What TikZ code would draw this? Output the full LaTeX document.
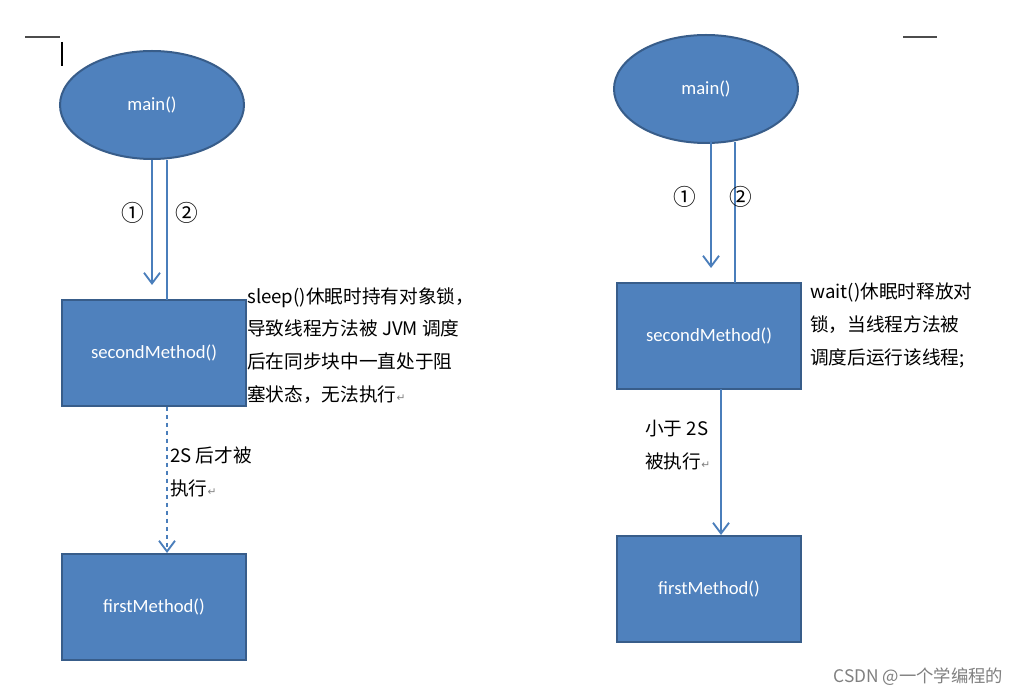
\documentclass[tikz,border=0pt]{standalone}
\usepackage{fontspec}
\setmainfont{Carlito}
\newfontfamily\cjk{Noto Sans CJK SC}
\newfontfamily\dvs{DejaVu Sans}
\usetikzlibrary{shapes.geometric,arrows.meta}
\definecolor{bfill}{HTML}{4F81BD}
\definecolor{bdraw}{HTML}{385D8A}
\definecolor{ln}{HTML}{4A7EBB}
\newcommand{\retmark}{{\dvs\color{gray}\fontsize{8}{8}\selectfont ↵}}
\tikzset{
 blob/.style={ellipse,fill=bfill,draw=bdraw,line width=1.5pt,text=white,font=\fontsize{14}{14}\selectfont,minimum width=184*0.75pt,minimum height=108*0.75pt,inner sep=0},
 box/.style={rectangle,fill=bfill,draw=bdraw,line width=1.5pt,text=white,font=\fontsize{14}{14}\selectfont,minimum width=184*0.75pt,minimum height=106*0.75pt,inner sep=0},
 conn/.style={ln,line width=1.6pt},
 arr/.style={conn,-{Straight Barb[length=8pt,width=12pt,line width=1.4pt]}},
 note/.style={anchor=north west,align=left,inner sep=0,font=\cjk\fontsize{14}{24.5}\selectfont},
 num/.style={font=\cjk\fontsize{17}{17}\selectfont}
}
\begin{document}
\begin{tikzpicture}[x=0.75pt,y=-0.75pt]
\useasboundingbox[fill=white] (0,0) rectangle (1022,698);
% left
\node[blob] (m1) at (152,105) {main()};
\node[box] (s1) at (154,353) {secondMethod()};
\node[box] (f1) at (154,607) {firstMethod()};
\coordinate (a1) at (152,160); \coordinate (a1e) at (152,285);
\coordinate (b1) at (167,160); \coordinate (b1e) at (167,300);
\draw[arr] (a1) -- (a1e);
\draw[conn] (b1e) -- (b1);
\node[num] (n11) at (133,213) {①};
\node[num] (n12) at (187,213) {②};
\node[note] (t1) at (247,287) {sleep()休眠时持有对象锁，\\导致线程方法被 JVM 调度\\后在同步块中一直处于阻\\塞状态，无法执行\retmark};
\coordinate (d1) at (167,407);
\draw[arr,dashed] (d1) -- (f1.north -| d1);
\node[note] (l1) at (170,447) {2S 后才被\\执行\retmark};
% right
\node[blob] (m2) at (706,89) {main()};
\node[box] (s2) at (709,336) {secondMethod()};
\node[box] (f2) at (709,589) {firstMethod()};
\coordinate (a2) at (711,142); \coordinate (a2e) at (711,268);
\coordinate (b2) at (735,142); \coordinate (b2e) at (735,283);
\draw[arr] (a2) -- (a2e);
\draw[conn] (b2e) -- (b2);
\node[num] (n21) at (685,197) {①};
\node[num] (n22) at (741,197) {②};
\node[note] (t2) at (810,283) {wait()休眠时释放对\\锁，当线程方法被\\调度后运行该线程;};
\coordinate (d2) at (721,389);
\draw[arr] (d2) -- (f2.north -| d2);
\node[note] (l2) at (645,420) {小于 2S\\被执行\retmark};
% marks
\coordinate (k1) at (25,37); \coordinate (k2) at (60,37);
\draw[gray!60!black,line width=0.8pt] (k1) -- (k2);
\coordinate (k3) at (903,37); \coordinate (k4) at (937,37);
\draw[gray!60!black,line width=0.8pt] (k3) -- (k4);
\coordinate (k5) at (62,42); \coordinate (k6) at (62,66);
\draw[black,line width=1pt] (k5) -- (k6);
\node[anchor=east,text=gray,font=\cjk\fontsize{13}{13}\selectfont] (wm) at (1008,677) {CSDN @一个学编程的};
\end{tikzpicture}
\end{document}
